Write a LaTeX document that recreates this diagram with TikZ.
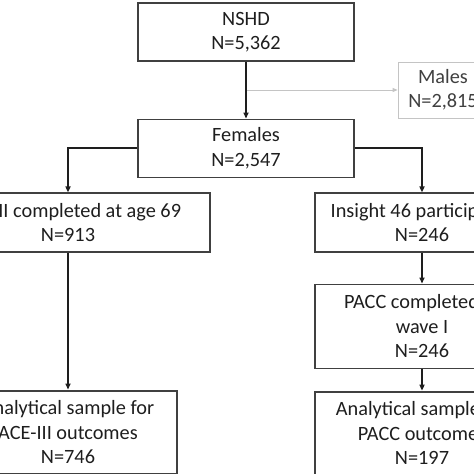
\documentclass[tikz,border=0pt]{standalone}
\usepackage{fontspec}
\setmainfont{Carlito}
\usepackage{tikz}
\usetikzlibrary{arrows.meta,positioning}
\definecolor{Ink}{HTML}{1E1E1E}
\definecolor{Faint}{HTML}{C4C4C4}
\newcommand\flowfont{\fontsize{20.3}{24.5}\selectfont}

\begin{document}
\begin{tikzpicture}[
  x=1pt,y=1pt,
  box/.style={draw=Ink!85,line width=1.1pt,minimum width=216pt,minimum height=58pt,align=center,inner sep=0pt,font=\flowfont,text=Ink},
  final/.style={box,line width=2.4pt,minimum width=214pt,minimum height=83pt},
  side/.style={box,draw=Faint,line width=0.8pt,minimum width=90pt,minimum height=56pt,text=Ink!85},
  arrow/.style={-{Triangle[length=6pt,width=5pt]},line width=1.8pt,draw=Ink},
  faint/.style={-{Triangle[length=5pt,width=4pt]},line width=0.8pt,draw=Faint}
]
\useasboundingbox (0,0) rectangle (474,474);
\clip (0,0) rectangle (474,474);
\node[box] (nshd) at (246,442) {NSHD\\N=5,362};
\node[box,below=57pt of nshd] (females) {Females\\N=2,547};
\node[side] (males) at (443,384) {Males\\N=2,815};
\node[box,minimum width=284pt,minimum height=59pt] (ace) at (68,251.5) {ACE-III completed at age 69\\N=913};
\node[box,minimum width=214pt,minimum height=59pt] (insight) at (422,251.5) {Insight 46 participants\\N=246};
\node[box,minimum width=214pt,minimum height=84pt,below=31pt of insight] (pacc) {PACC completed at\\wave I\\N=246};
\node[final,minimum width=218pt,below=137pt of ace] (anace) {Analytical sample for\\ACE-III outcomes\\N=746};
\node[final,below=22pt of pacc] (anpacc) {Analytical sample for\\PACC outcomes\\N=197};
\coordinate (split) at (nshd.south |- males.west);
\draw[faint] (split) -- (males.west);
\draw[arrow] (nshd) -- (females);
\draw[arrow] (females.west) -| (ace.north);
\draw[arrow] (females.east) -| (insight.north);
\draw[arrow] (ace) -- (anace);
\draw[arrow] (insight) -- (pacc);
\draw[arrow] (pacc) -- (anpacc);
\end{tikzpicture}
\end{document}
